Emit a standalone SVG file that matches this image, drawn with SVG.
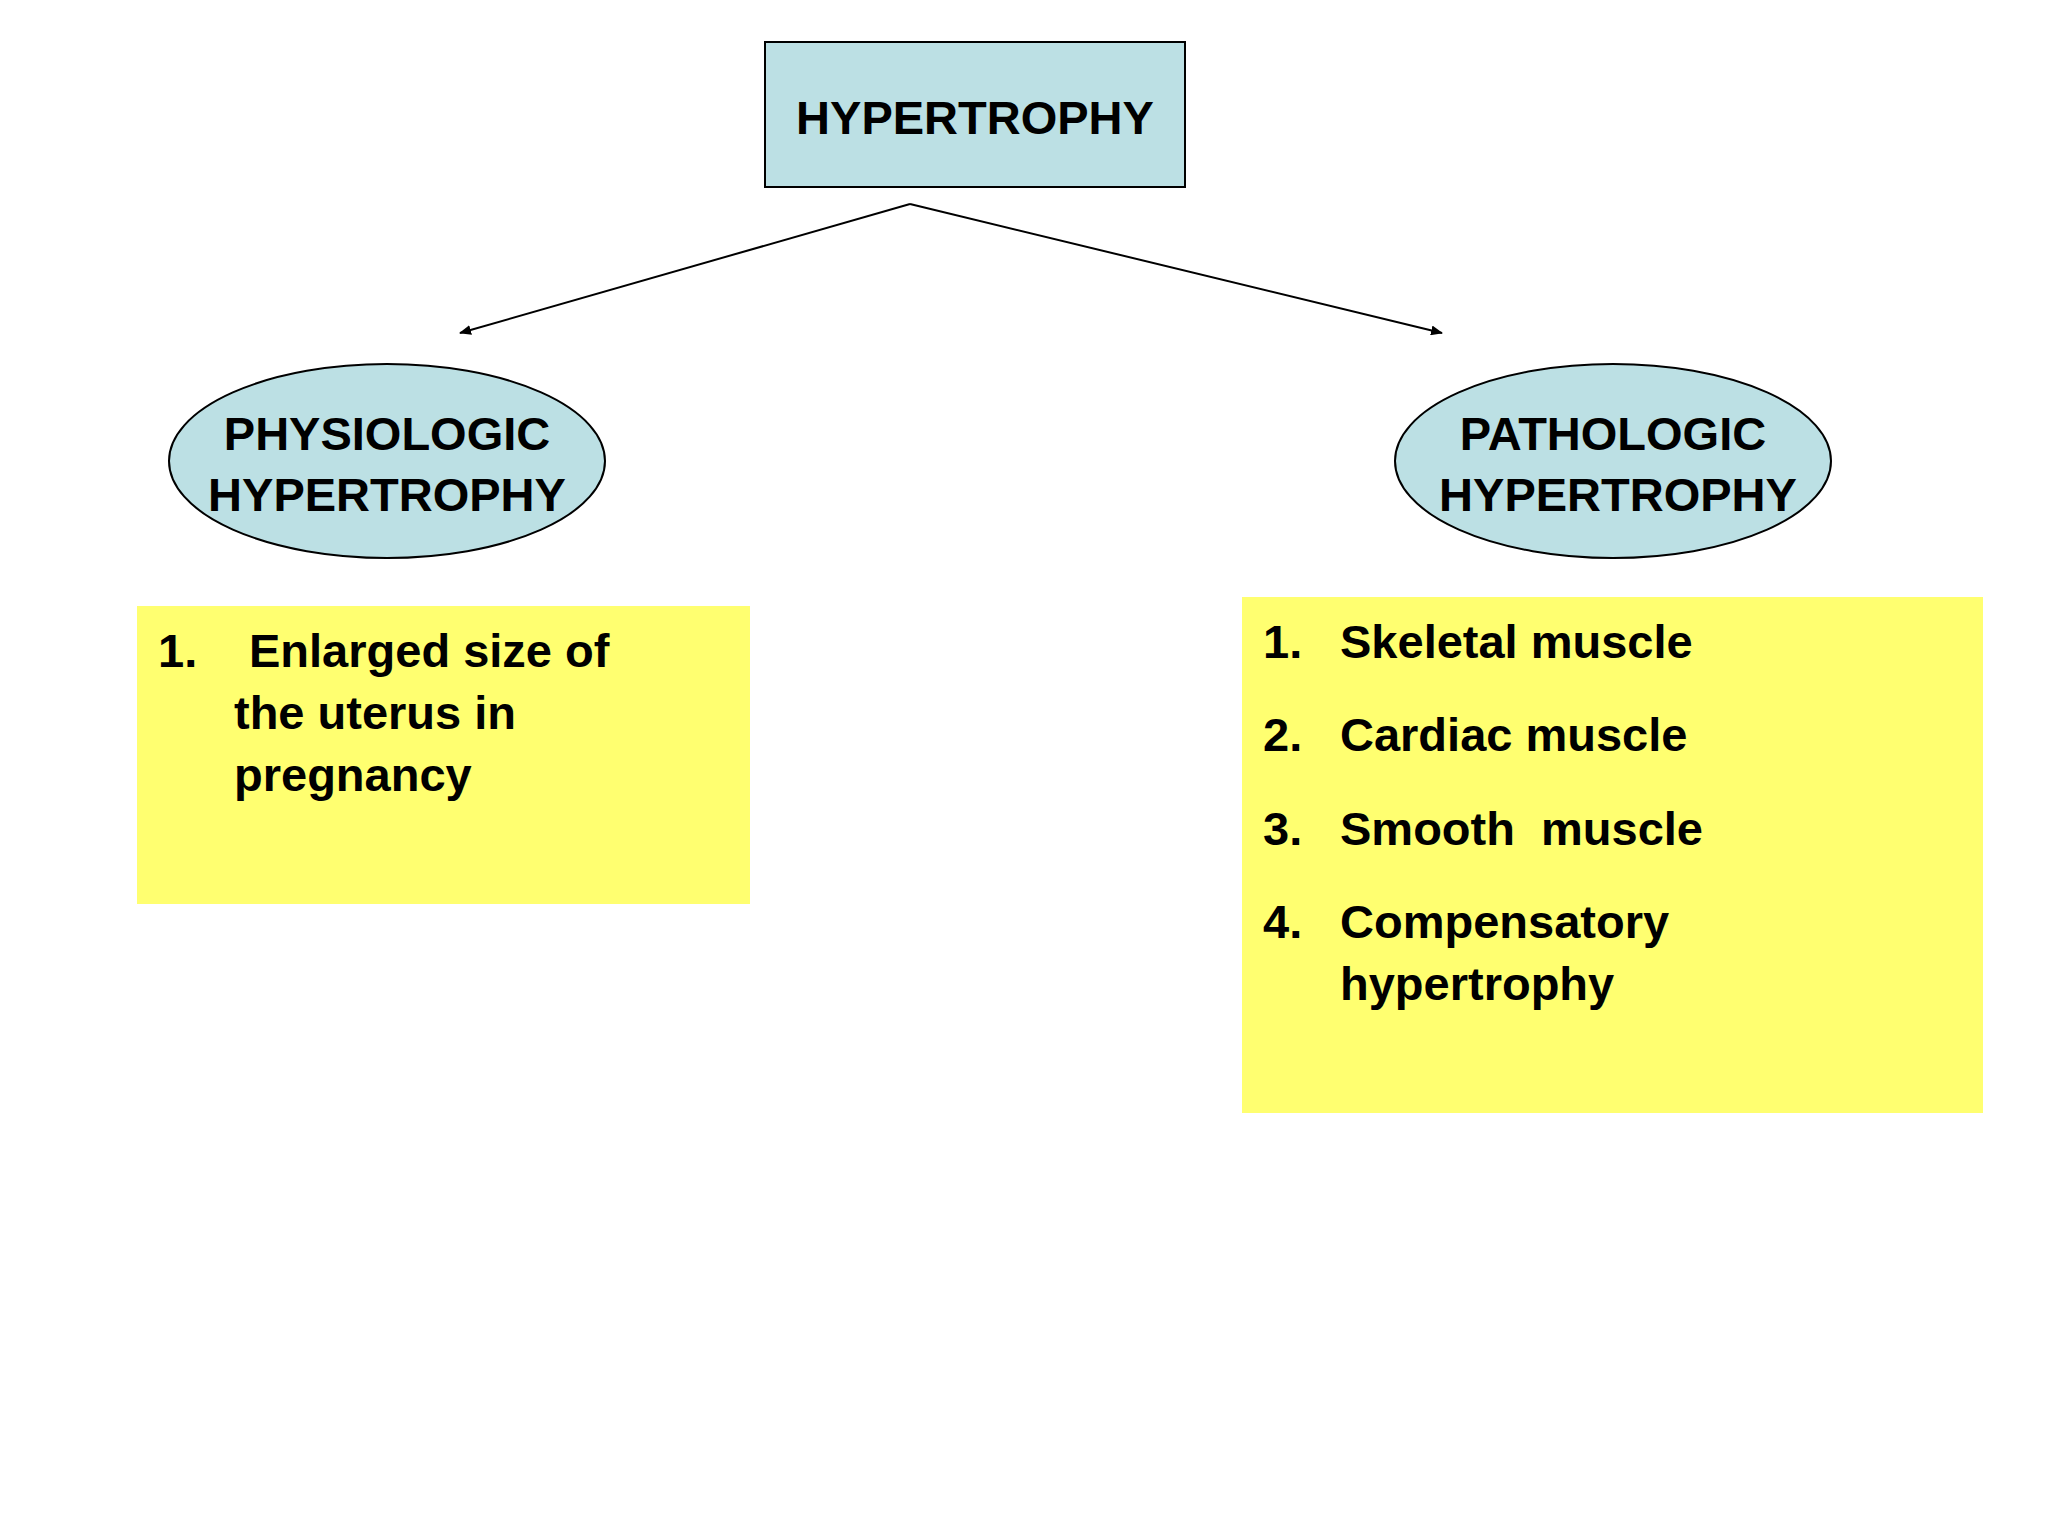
<svg xmlns="http://www.w3.org/2000/svg" width="2048" height="1536" viewBox="0 0 2048 1536">
<style>
.t{font-family:"Liberation Sans",Arial,sans-serif;font-weight:bold;font-size:47px;fill:#000}
.n{fill:#BCE0E4;stroke:#000;stroke-width:2}
.y{fill:#FFFF70}
.c{stroke:#000;stroke-width:2;fill:none;marker-end:url(#a)}
</style>
<defs><marker id="a" markerWidth="12" markerHeight="10" refX="11" refY="5" orient="auto" markerUnits="userSpaceOnUse"><path d="M0,0L12,5L0,10z" fill="#000"/></marker></defs>
<rect width="2048" height="1536" fill="#fff"/>
<g id="root"><rect class="n" x="765" y="42" width="420" height="145"/><text class="t" x="975" y="134" text-anchor="middle">HYPERTROPHY</text></g>
<g id="connectors"><polyline class="c" points="910,204 460,333"/><polyline class="c" points="910,204 1442,333"/></g>
<g id="physio"><ellipse class="n" cx="387" cy="461" rx="218" ry="97"/><text class="t" x="387" y="450" text-anchor="middle">PHYSIOLOGIC</text><text class="t" x="387" y="511" text-anchor="middle">HYPERTROPHY</text></g>
<g id="patho"><ellipse class="n" cx="1613" cy="461" rx="218" ry="97"/><text class="t" x="1613" y="450" text-anchor="middle">PATHOLOGIC</text><text class="t" x="1618" y="511" text-anchor="middle">HYPERTROPHY</text></g>
<g id="physio-list"><rect class="y" x="137" y="606" width="613" height="298"/>
<text class="t" x="158" y="667">1.</text><text class="t" x="249" y="667">Enlarged size of</text>
<text class="t" x="234" y="729">the uterus in</text><text class="t" x="234" y="791">pregnancy</text></g>
<g id="patho-list"><rect class="y" x="1242" y="597" width="741" height="516"/>
<text class="t" x="1263" y="658">1.</text><text class="t" x="1340" y="658">Skeletal muscle</text>
<text class="t" x="1263" y="751">2.</text><text class="t" x="1340" y="751">Cardiac muscle</text>
<text class="t" x="1263" y="845">3.</text><text class="t" x="1340" y="845" xml:space="preserve">Smooth  muscle</text>
<text class="t" x="1263" y="938">4.</text><text class="t" x="1340" y="938">Compensatory</text>
<text class="t" x="1340" y="1000">hypertrophy</text></g>
</svg>
